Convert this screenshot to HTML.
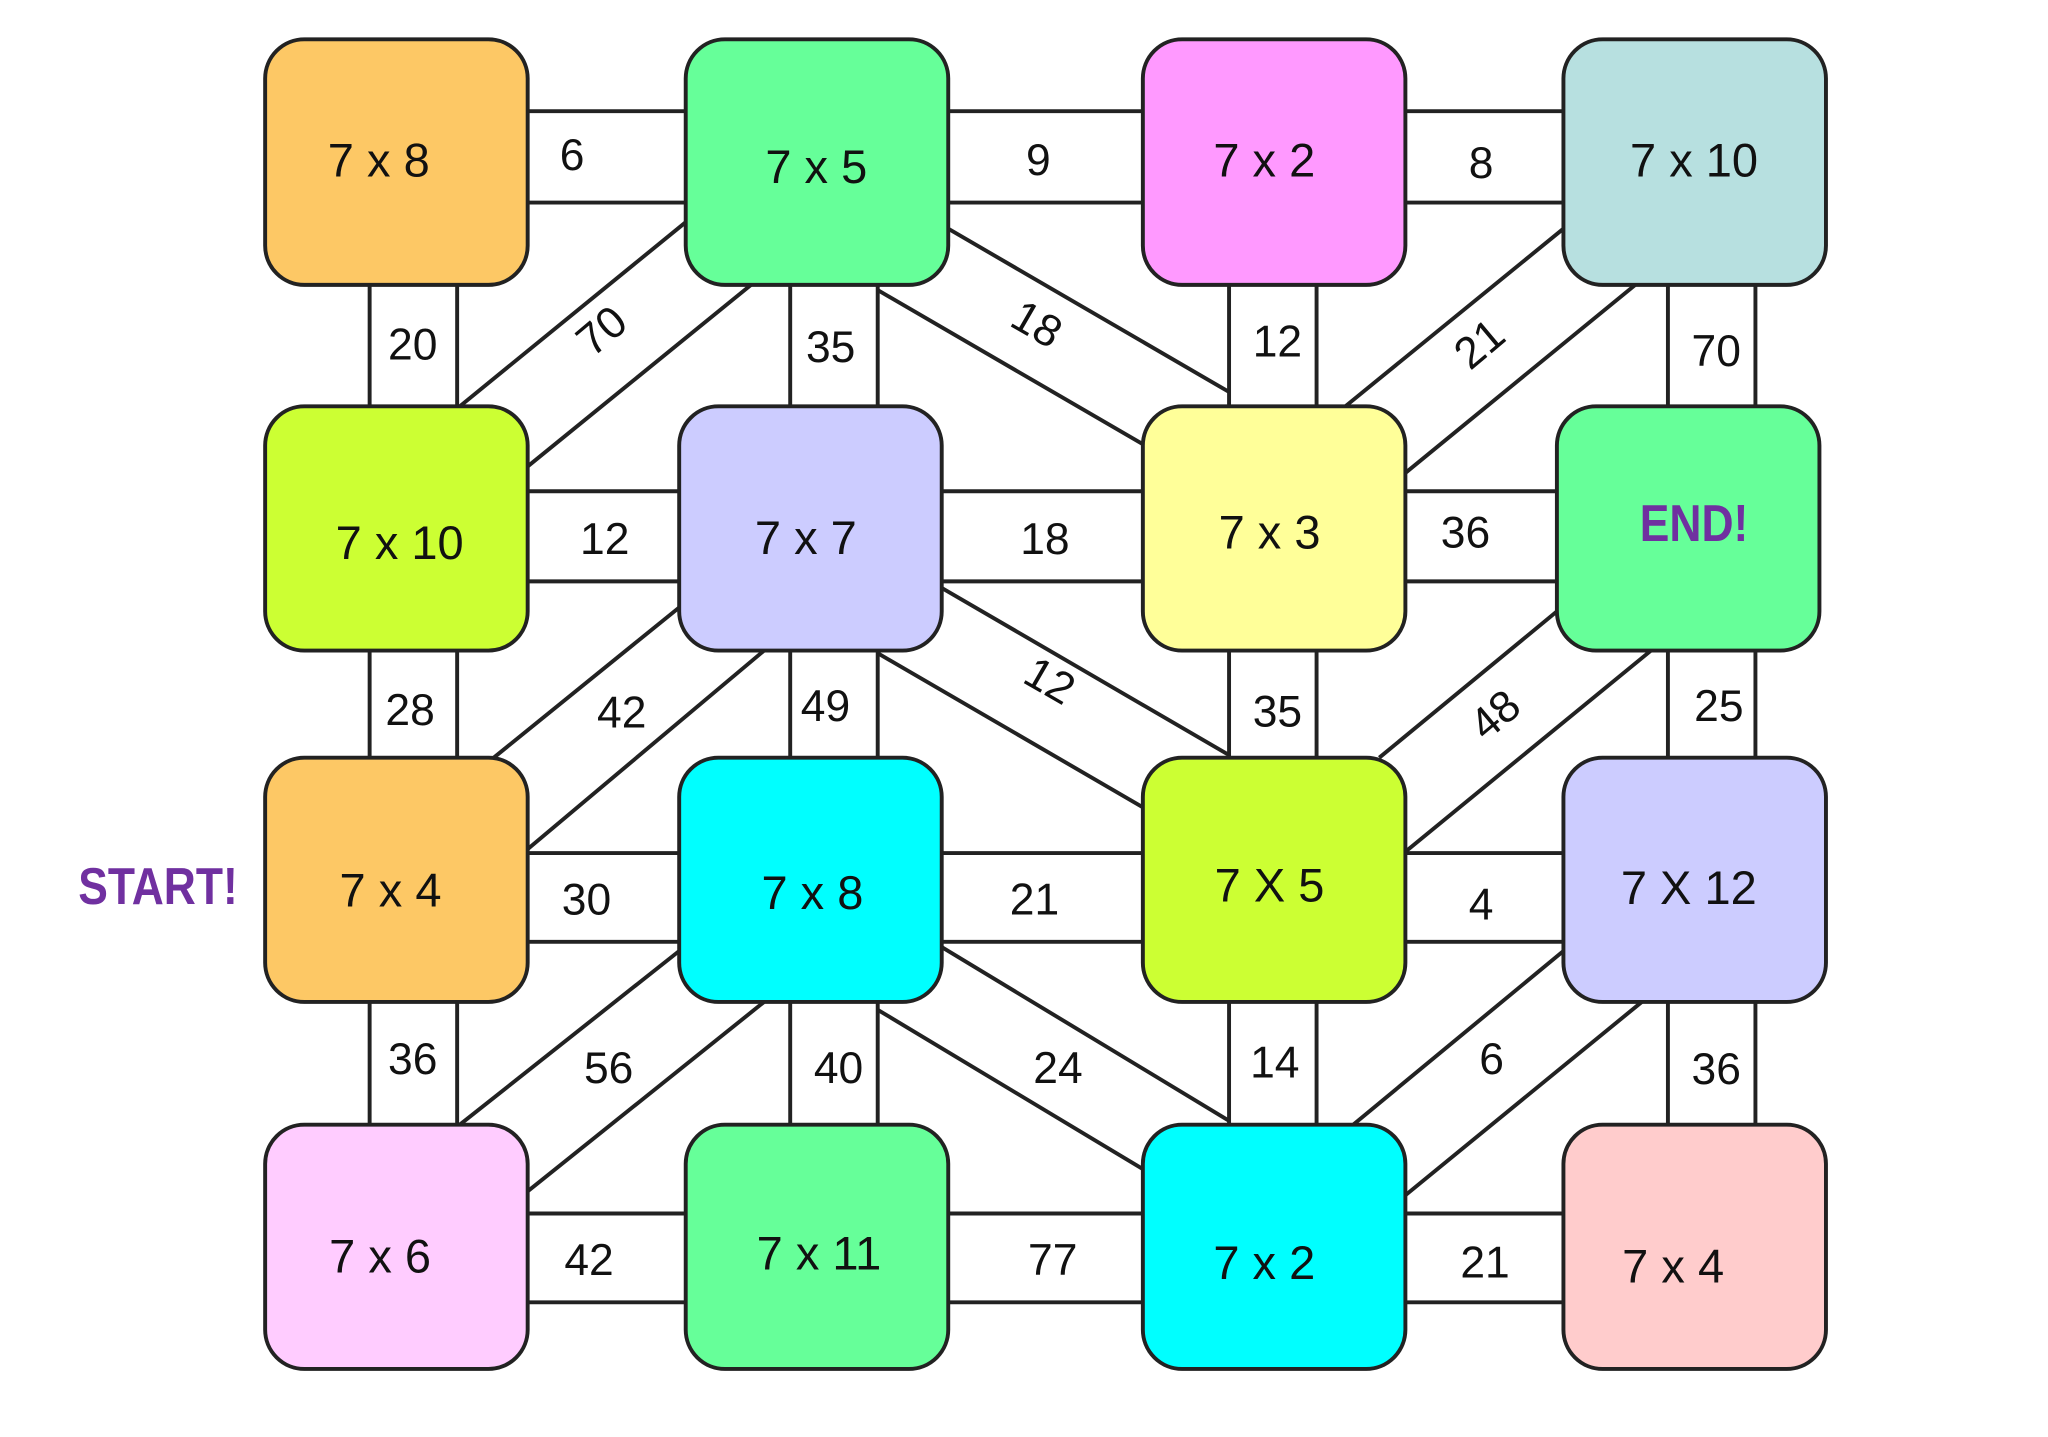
<!DOCTYPE html>
<html><head><meta charset="utf-8"><style>
html,body{margin:0;padding:0;background:#fff;}
svg{display:block;}
text{font-family:"Liberation Sans",sans-serif;fill:#111;}
</style></head><body>
<svg width="2048" height="1437" viewBox="0 0 1568 1100" xmlns="http://www.w3.org/2000/svg">
<rect width="1568" height="1100" fill="#fff"/>
<g stroke="#222" stroke-width="3" fill="none">
<!-- horizontal bridges -->
<line x1="404" y1="85" x2="1197" y2="85"/><line x1="404" y1="155" x2="1197" y2="155"/>
<line x1="404" y1="376" x2="1192" y2="376"/><line x1="404" y1="445" x2="1192" y2="445"/>
<line x1="404" y1="653" x2="1197" y2="653"/><line x1="404" y1="721" x2="1197" y2="721"/>
<line x1="404" y1="929" x2="1197" y2="929"/><line x1="404" y1="997" x2="1197" y2="997"/>
<!-- vertical bridges -->
<line x1="283" y1="218" x2="283" y2="861"/><line x1="350" y1="218" x2="350" y2="861"/>
<line x1="605" y1="218" x2="605" y2="861"/><line x1="672" y1="218" x2="672" y2="861"/>
<line x1="941" y1="218" x2="941" y2="861"/><line x1="1008" y1="218" x2="1008" y2="861"/>
<line x1="1277" y1="218" x2="1277" y2="861"/><line x1="1344" y1="218" x2="1344" y2="861"/>
<!-- diagonals -->
<line x1="525" y1="170" x2="352" y2="311"/><line x1="575" y1="218" x2="404" y2="357"/>
<line x1="726" y1="175" x2="941" y2="300"/><line x1="672" y1="222" x2="875" y2="340"/>
<line x1="1197" y1="175" x2="1030" y2="311"/><line x1="1252" y1="218" x2="1076" y2="362"/>
<line x1="520" y1="465" x2="378" y2="580"/><line x1="585" y1="498" x2="404" y2="650"/>
<line x1="721" y1="450" x2="941" y2="578"/><line x1="672" y1="500" x2="875" y2="618"/>
<line x1="1192" y1="468" x2="1056" y2="580"/><line x1="1264" y1="498" x2="1076" y2="652"/>
<line x1="520" y1="728" x2="352" y2="861"/><line x1="585" y1="767" x2="404" y2="912"/>
<line x1="721" y1="725" x2="941" y2="858"/><line x1="672" y1="773" x2="875" y2="895"/>
<line x1="1197" y1="728" x2="1036" y2="861"/><line x1="1257" y1="767" x2="1076" y2="915"/>
</g>
<g stroke="#222" stroke-width="3">
<rect x="203" y="30" width="201" height="188" rx="30" fill="#fdc865"/>
<rect x="525" y="30" width="201" height="188" rx="30" fill="#66ff99"/>
<rect x="875" y="30" width="201" height="188" rx="30" fill="#ff99ff"/>
<rect x="1197" y="30" width="201" height="188" rx="30" fill="#b7e0e0"/>
<rect x="203" y="311" width="201" height="187" rx="30" fill="#ccff33"/>
<rect x="520" y="311" width="201" height="187" rx="30" fill="#ccccff"/>
<rect x="875" y="311" width="201" height="187" rx="30" fill="#ffff99"/>
<rect x="1192" y="311" width="201" height="187" rx="30" fill="#66ff99"/>
<rect x="203" y="580" width="201" height="187" rx="30" fill="#fdc865"/>
<rect x="520" y="580" width="201" height="187" rx="30" fill="#00ffff"/>
<rect x="875" y="580" width="201" height="187" rx="30" fill="#ccff33"/>
<rect x="1197" y="580" width="201" height="187" rx="30" fill="#ccccff"/>
<rect x="203" y="861" width="201" height="187" rx="30" fill="#ffccff"/>
<rect x="525" y="861" width="201" height="187" rx="30" fill="#66ff99"/>
<rect x="875" y="861" width="201" height="187" rx="30" fill="#00ffff"/>
<rect x="1197" y="861" width="201" height="187" rx="30" fill="#ffcccc"/>
</g>
<g font-size="36" text-anchor="middle">
<text x="290" y="135">7 x 8</text><text x="625" y="140">7 x 5</text><text x="968" y="135">7 x 2</text><text x="1297" y="135">7 x 10</text>
<text x="306" y="428">7 x 10</text><text x="617" y="424">7 x 7</text><text x="972" y="420">7 x 3</text>
<text x="299" y="694">7 x 4</text><text x="622" y="696">7 x 8</text><text x="972" y="690">7 X 5</text><text x="1293" y="692">7 X 12</text>
<text x="291" y="974">7 x 6</text><text x="627" y="972">7 x 11</text><text x="968" y="979">7 x 2</text><text x="1281" y="982">7 x 4</text>
</g>
<g font-size="34" text-anchor="middle">
<text x="438" y="130">6</text><text x="795" y="134">9</text><text x="1134" y="136">8</text>
<text x="316" y="275">20</text><text x="636" y="277">35</text><text x="978" y="273">12</text><text x="1314" y="280">70</text>
<text x="463" y="424">12</text><text x="800" y="424">18</text><text x="1122" y="419">36</text>
<text x="314" y="555">28</text><text x="476" y="557">42</text><text x="632" y="552">49</text><text x="978" y="556">35</text><text x="1316" y="552">25</text>
<text x="449" y="700">30</text><text x="792" y="700">21</text><text x="1134" y="704">4</text>
<text x="316" y="822">36</text><text x="466" y="829">56</text><text x="642" y="829">40</text><text x="810" y="829">24</text><text x="976" y="825">14</text><text x="1142" y="822">6</text><text x="1314" y="830">36</text>
<text x="451" y="976">42</text><text x="806" y="976">77</text><text x="1137" y="978">21</text>
<text transform="translate(468,262) rotate(-40)">70</text>
<text transform="translate(788,258) rotate(30)">18</text>
<text transform="translate(1140,272) rotate(-40)">21</text>
<text transform="translate(798,531) rotate(30)">12</text>
<text transform="translate(1152,556) rotate(-40)">48</text>
</g>
<g font-size="40" font-weight="bold" fill="#7030a0" text-anchor="middle">
<text x="121" y="692" fill="#7030a0" style="fill:#7030a0" transform="translate(121,692) scale(0.85,1) translate(-121,-692)">START!</text>
<text x="1297" y="414" style="fill:#7030a0" transform="translate(1297,414) scale(0.85,1) translate(-1297,-414)">END!</text>
</g>
</svg>
</body></html>
